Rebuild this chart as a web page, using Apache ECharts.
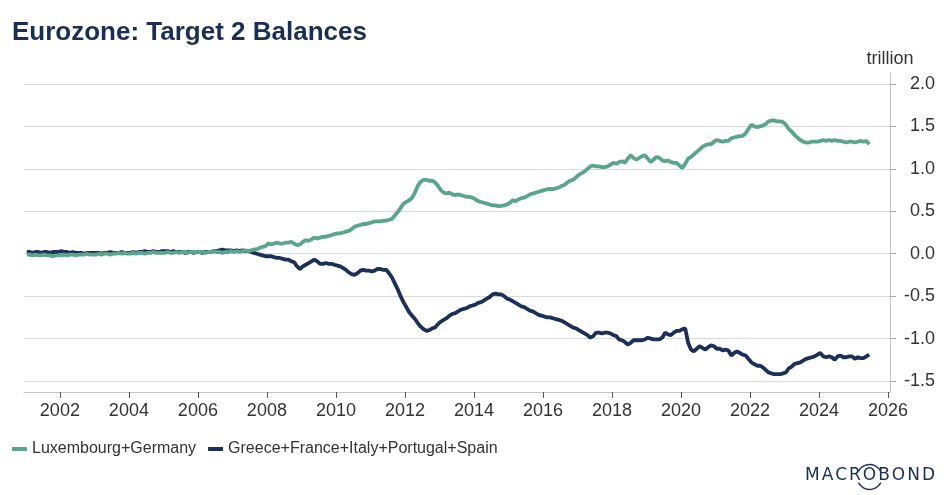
<!DOCTYPE html>
<html>
<head>
<meta charset="utf-8">
<script src="https://cdn.jsdelivr.net/npm/echarts@6/dist/echarts.min.js"></script>
<style>
html,body{margin:0;padding:0;background:#fff;}
#chart{width:952px;height:495px;}
</style>
</head>
<body>
<div id="chart"></div>
<script>
// ---- Data (trillion EUR), monthly from Jan 2001 ----
const startYear = 2001;
const seriesNames = ['Luxembourg+Germany', 'Greece+France+Italy+Portugal+Spain'];
const xTickYears = [2002, 2004, 2006, 2008, 2010, 2012, 2014, 2016, 2018, 2020, 2022, 2024, 2026];
const yTicks = [-1.5, -1.0, -0.5, 0.0, 0.5, 1.0, 1.5, 2.0];

const luxGermany = [
  -0.01,-0.01,-0.02,-0.01,-0.02,-0.02,-0.01,-0.02,-0.02,-0.03,-0.02,-0.02, // 2001
  -0.02,-0.01,-0.02,-0.01,-0.01,-0.02,-0.01,-0.01,-0.01,0.00,-0.01,-0.01, // 2002
  -0.01,0.00,-0.01,0.00,0.00,-0.01,0.00,0.00,0.01,0.00,0.01,0.00,         // 2003
  0.00,0.01,0.00,0.01,0.01,0.00,0.01,0.01,0.02,0.01,0.01,0.01,            // 2004
  0.01,0.02,0.01,0.01,0.02,0.01,0.02,0.02,0.01,0.02,0.02,0.02,            // 2005
  0.02,0.02,0.01,0.02,0.02,0.03,0.02,0.02,0.01,0.02,0.02,0.03,            // 2006
  0.02,0.03,0.02,0.03,0.04,0.03,0.04,0.05,0.05,0.07,0.08,0.09,            // 2007
  0.12,0.11,0.12,0.13,0.12,0.12,0.13,0.13,0.14,0.12,0.10,0.11,            // 2008
  0.14,0.16,0.15,0.17,0.19,0.18,0.19,0.20,0.20,0.21,0.22,0.23,            // 2009
  0.24,0.24,0.25,0.26,0.27,0.29,0.32,0.33,0.34,0.35,0.35,0.36,            // 2010
  0.37,0.38,0.38,0.38,0.39,0.39,0.40,0.41,0.45,0.49,0.54,0.59,            // 2011
  0.61,0.63,0.66,0.72,0.80,0.85,0.87,0.87,0.86,0.86,0.84,0.80,            // 2012
  0.75,0.72,0.71,0.72,0.70,0.69,0.70,0.69,0.68,0.67,0.67,0.66,            // 2013
  0.64,0.62,0.61,0.60,0.59,0.58,0.57,0.57,0.56,0.565,0.57,0.58,           // 2014
  0.60,0.63,0.62,0.64,0.655,0.66,0.68,0.70,0.71,0.72,0.73,0.74,           // 2015
  0.75,0.76,0.765,0.76,0.77,0.78,0.80,0.81,0.84,0.86,0.87,0.90,           // 2016
  0.93,0.95,0.97,1.00,1.03,1.04,1.03,1.03,1.02,1.02,1.03,1.05,            // 2017
  1.07,1.06,1.08,1.09,1.07,1.12,1.16,1.13,1.11,1.13,1.15,1.16,            // 2018
  1.12,1.08,1.11,1.14,1.13,1.10,1.09,1.10,1.08,1.07,1.07,1.04,            // 2019
  1.01,1.06,1.12,1.14,1.17,1.20,1.23,1.26,1.28,1.29,1.29,1.32,            // 2020
  1.34,1.33,1.32,1.33,1.33,1.36,1.37,1.38,1.385,1.39,1.42,1.47,           // 2021
  1.52,1.50,1.49,1.50,1.51,1.53,1.56,1.57,1.57,1.56,1.56,1.55,            // 2022
  1.52,1.47,1.44,1.40,1.37,1.34,1.32,1.31,1.31,1.32,1.32,1.32,            // 2023
  1.33,1.34,1.33,1.34,1.33,1.34,1.33,1.33,1.32,1.31,1.32,1.32,            // 2024
  1.31,1.32,1.33,1.32,1.33,1.29                                           // 2025
];

const southPeriphery = [
  0.02,0.02,0.01,0.02,0.02,0.01,0.02,0.02,0.01,0.02,0.02,0.02,            // 2001
  0.03,0.02,0.02,0.01,0.02,0.01,0.01,0.01,0.00,0.01,0.01,0.01,            // 2002
  0.01,0.01,0.00,0.01,0.01,0.02,0.01,0.01,0.01,0.02,0.01,0.01,            // 2003
  0.01,0.02,0.01,0.02,0.02,0.03,0.02,0.02,0.03,0.02,0.02,0.03,            // 2004
  0.03,0.03,0.02,0.03,0.02,0.02,0.02,0.01,0.02,0.02,0.01,0.02,            // 2005
  0.02,0.01,0.02,0.02,0.02,0.03,0.03,0.04,0.05,0.04,0.04,0.04,            // 2006
  0.03,0.04,0.03,0.04,0.03,0.03,0.02,0.01,0.00,-0.01,-0.02,-0.03,         // 2007
  -0.03,-0.03,-0.04,-0.05,-0.05,-0.06,-0.07,-0.07,-0.09,-0.10,-0.15,-0.18, // 2008
  -0.15,-0.13,-0.11,-0.09,-0.07,-0.09,-0.12,-0.12,-0.11,-0.12,-0.12,-0.13, // 2009
  -0.14,-0.15,-0.17,-0.19,-0.22,-0.24,-0.25,-0.23,-0.20,-0.19,-0.20,-0.20, // 2010
  -0.21,-0.20,-0.18,-0.18,-0.19,-0.19,-0.23,-0.28,-0.35,-0.42,-0.50,-0.57, // 2011
  -0.63,-0.69,-0.73,-0.77,-0.82,-0.86,-0.89,-0.91,-0.90,-0.88,-0.87,-0.83, // 2012
  -0.80,-0.78,-0.76,-0.73,-0.71,-0.70,-0.68,-0.66,-0.65,-0.64,-0.62,-0.61, // 2013
  -0.60,-0.58,-0.57,-0.55,-0.53,-0.51,-0.48,-0.47,-0.48,-0.48,-0.50,-0.53, // 2014
  -0.54,-0.56,-0.58,-0.60,-0.62,-0.63,-0.65,-0.67,-0.68,-0.70,-0.72,-0.73, // 2015
  -0.74,-0.75,-0.75,-0.76,-0.77,-0.78,-0.79,-0.81,-0.83,-0.85,-0.87,-0.88, // 2016
  -0.90,-0.92,-0.94,-0.96,-0.99,-0.97,-0.93,-0.93,-0.94,-0.93,-0.93,-0.94, // 2017
  -0.96,-0.97,-1.01,-1.02,-1.04,-1.07,-1.05,-1.02,-1.02,-1.02,-1.02,-1.01, // 2018
  -0.99,-1.00,-1.01,-1.01,-1.01,-0.99,-0.93,-0.95,-0.96,-0.93,-0.91,-0.91, // 2019
  -0.89,-0.88,-1.05,-1.13,-1.15,-1.12,-1.09,-1.11,-1.13,-1.10,-1.08,-1.09, // 2020
  -1.12,-1.12,-1.14,-1.13,-1.14,-1.20,-1.17,-1.15,-1.17,-1.19,-1.20,-1.24, // 2021
  -1.28,-1.30,-1.32,-1.32,-1.34,-1.37,-1.40,-1.41,-1.42,-1.42,-1.42,-1.41, // 2022
  -1.40,-1.35,-1.33,-1.30,-1.29,-1.28,-1.26,-1.24,-1.23,-1.22,-1.21,-1.19, // 2023
  -1.17,-1.21,-1.22,-1.21,-1.22,-1.25,-1.21,-1.20,-1.22,-1.22,-1.21,-1.21, // 2024
  -1.24,-1.22,-1.23,-1.23,-1.21,-1.19                                      // 2025
];

function toPoints(values) {
  return values.map((v, i) => [startYear + i / 12 + 1 / 24, v]);
}

const FONT = '"Liberation Sans", Arial, sans-serif';
const GREEN = '#5BA48E';
const NAVY = '#1B2F58';
const xMin = 2000.96, xMax = 2026.06;

// Logo wordmark laid out letter by letter
const logoText = 'MACROBOND';
const logoFamily = 'DejaVu Sans';
const logoSize = 17;
const logoLeft = 805, logoRight = 935, logoTop = 467;
const cv = document.createElement('canvas').getContext('2d');
cv.font = logoSize + 'px "' + logoFamily + '"';
const widths = logoText.split('').map(c => cv.measureText(c).width);
const totalW = widths.reduce((a, b) => a + b, 0);
const spacing = (logoRight - logoLeft - totalW) / (logoText.length - 1);
const logoGraphics = [];
let cx = logoLeft, oCenter = null;
logoText.split('').forEach((c, i) => {
  logoGraphics.push({type: 'text', x: cx, y: logoTop, silent: true,
    style: {text: c, fontSize: logoSize, fontFamily: logoFamily, fill: '#1B2F55'}});
  if (i === 4) oCenter = cx + widths[i] / 2;
  cx += widths[i] + spacing;
});
logoGraphics.push({type: 'arc', silent: true,
  shape: {cx: oCenter, cy: 477, r: 12.5, startAngle: Math.PI * 1.15, endAngle: Math.PI * 1.85},
  style: {stroke: '#1B2F55', lineWidth: 1.4, fill: null}});
logoGraphics.push({type: 'arc', silent: true,
  shape: {cx: oCenter, cy: 477, r: 12.5, startAngle: Math.PI * 0.15, endAngle: Math.PI * 0.85},
  style: {stroke: '#1B2F55', lineWidth: 1.4, fill: null}});

const chart = echarts.init(document.getElementById('chart'), null, {renderer: 'canvas'});
chart.setOption({
  backgroundColor: '#ffffff',
  animation: false,
  textStyle: {fontFamily: FONT},
  title: {
    text: 'Eurozone: Target 2 Balances',
    left: 7, top: 15,
    textStyle: {fontFamily: FONT, fontSize: 26, fontWeight: 'bold', color: '#1B2F55'}
  },
  legend: {
    left: 7, top: 436,
    icon: 'rect', itemWidth: 15, itemHeight: 4, itemGap: 12,
    textStyle: {fontFamily: FONT, fontSize: 16, color: '#333333'},
    data: seriesNames
  },
  grid: [
    {left: 24, right: 62, top: 84, bottom: 114},
    {left: 24, right: 62, top: 73, bottom: 103}
  ],
  xAxis: [
    {gridIndex: 0, type: 'value', min: xMin, max: xMax, show: false},
    {
      gridIndex: 1, type: 'value', min: xMin, max: xMax,
      axisLine: {show: true, lineStyle: {color: '#c4c4c4', width: 1}},
      axisTick: {show: true, length: 6, customValues: xTickYears, lineStyle: {color: '#555555'}},
      axisLabel: {customValues: xTickYears, margin: 10, fontSize: 18, color: '#333333', fontFamily: FONT,
        formatter: v => String(Math.round(v))},
      splitLine: {show: false}
    }
  ],
  yAxis: [
    {
      gridIndex: 0, type: 'value', position: 'right',
      min: yTicks[0], max: yTicks[yTicks.length - 1], interval: 0.5,
      name: 'trillion', nameLocation: 'end', nameGap: 16,
      nameTextStyle: {fontFamily: FONT, fontSize: 18, color: '#333333'},
      axisLine: {show: false},
      axisTick: {show: true, length: 6, lineStyle: {color: '#aaaaaa'}},
      axisLabel: {align: 'right', margin: 45, fontSize: 18, color: '#333333', fontFamily: FONT,
        formatter: v => v.toFixed(1)},
      splitLine: {show: true, lineStyle: {color: '#d9d9d9', width: 1}}
    },
    {
      gridIndex: 1, type: 'value', position: 'right', min: 0, max: 1,
      axisLine: {show: true, lineStyle: {color: '#c4c4c4', width: 1}},
      axisTick: {show: false}, axisLabel: {show: false}, splitLine: {show: false}
    }
  ],
  series: [
    {
      name: seriesNames[0], type: 'line', xAxisIndex: 0, yAxisIndex: 0,
      data: toPoints(luxGermany), showSymbol: false, z: 4,
      lineStyle: {color: GREEN, width: 3.8}, itemStyle: {color: GREEN}
    },
    {
      name: seriesNames[1], type: 'line', xAxisIndex: 0, yAxisIndex: 0,
      data: toPoints(southPeriphery), showSymbol: false, z: 3,
      lineStyle: {color: NAVY, width: 3.8}, itemStyle: {color: NAVY}
    }
  ],
  graphic: logoGraphics
});
</script>
</body>
</html>
